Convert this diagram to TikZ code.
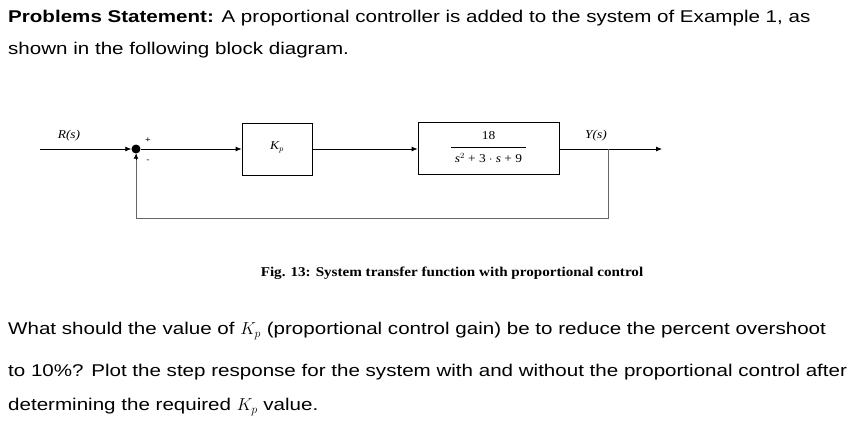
\documentclass[tikz,border=0pt]{standalone}
\usepackage{fontspec}
\setmainfont{Liberation Sans}[FakeStretch=1.21]
\newfontfamily\serif{Liberation Serif}[FakeStretch=1.12]
\usetikzlibrary{arrows.meta}
\begin{document}
\begin{tikzpicture}[x=1pt,y=-1pt,
  txt/.style={anchor=west,inner sep=0,font=\fontsize{17}{20}\selectfont},
  blk/.style={draw,line width=0.8pt,inner sep=0},
  sig/.style={line width=0.8pt,-{Latex[length=6pt,width=5pt]}},
  fb/.style={line width=0.8pt,draw=black!60},
  lbl/.style={inner sep=0,font=\serif\itshape\fontsize{12}{13}\selectfont}]
\useasboundingbox (0,0) rectangle (852,426);
\node[txt] (t1) at (8,18) {\textbf{Problems Statement:} A proportional controller is added to the system of Example 1, as};
\node[txt] (t2) at (8,50) {shown in the following block diagram.};
% diagram
\coordinate (in) at (40,149);
\node[circle,fill=black,minimum size=9pt,inner sep=0] (sum) at (136,149) {};
\node[blk,minimum width=70pt,minimum height=52pt] (kp) at (277,149) {};
\node[lbl] (kpl) at (277,147) {K$_p$};
\node[blk,minimum width=141pt,minimum height=52pt] (g) at (488.5,148) {};
\node[lbl,font=\serif\fontsize{12}{13}\selectfont] (num) at (488.5,136) {18};
\draw[line width=0.5pt] (451,147) -- (526,147);
\node[lbl,font=\serif\fontsize{12}{13}\selectfont] (den) at (488.5,158) {\textit{s}$^2$ + 3 $\cdot$ \textit{s} + 9};
\coordinate (br) at (608,149);
\coordinate (out) at (662,149);
\coordinate (fb1) at (608,218);
\coordinate (fb2) at (136,218);
\draw[sig] (in) -- (sum);
\draw[sig] (sum) -- (kp);
\draw[sig] (kp) -- (g.west |- kp);
\draw[sig] (g.east |- br) -- (out);
\draw[fb] (br) -- (fb1) -- (fb2) -- (sum.south);
\draw[line width=0.8pt,-{Latex[length=5pt,width=5pt]}] (136,160) -- (sum.south);
\node[lbl] (r) at (69,136) {R(s)};
\node[lbl] (y) at (596,136) {Y(s)};
\node[inner sep=0,font=\fontsize{8}{9}\selectfont] (pl) at (148,140) {+};
\node[inner sep=0,font=\fontsize{8}{9}\selectfont] (mi) at (148,161) {-};
\node[inner sep=0,font=\serif\bfseries\fontsize{13.5}{15}\selectfont] (cap) at (452,273) {Fig. 13: System transfer function with proportional control};
\node[txt] (b1) at (8,331) {What should the value of $K_p$ (proportional control gain) be to reduce the percent overshoot};
\node[txt] (b2) at (8,372) {to 10\%? Plot the step response for the system with and without the proportional control after};
\node[txt] (b3) at (8,407) {determining the required $K_p$ value.};
\end{tikzpicture}
\end{document}
